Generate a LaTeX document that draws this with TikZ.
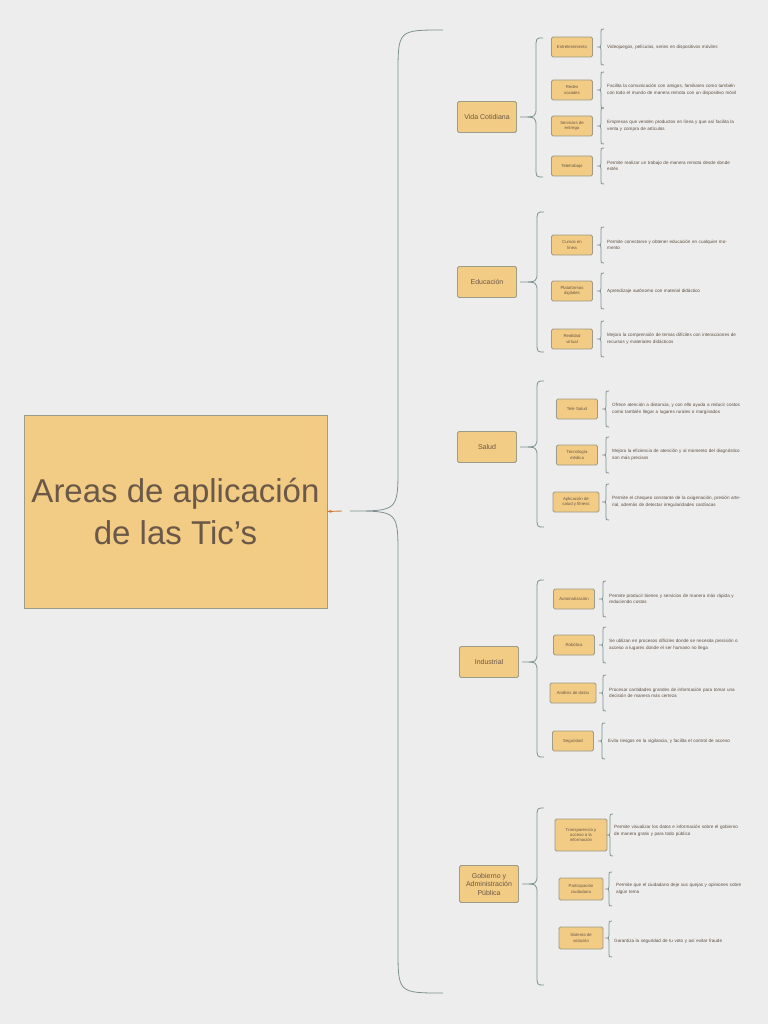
\documentclass[tikz,border=0pt]{standalone}
\usepackage{fontspec}
\setmainfont{Liberation Sans}
\usetikzlibrary{arrows.meta}
\definecolor{bg}{HTML}{EDEDED}
\definecolor{boxfill}{HTML}{F2CB84}
\definecolor{boxline}{HTML}{9C9C88}
\definecolor{lnk}{HTML}{7E9290}
\definecolor{txt}{HTML}{6A5848}
\definecolor{arr}{HTML}{D2762E}
\newcommand\mybrace[7]{% x, top, bottom, mid, tipx, endx, r
\draw[brc] (#6,#2) .. controls (#1,#2) .. (#1,{#2+#7}) -- (#1,{#4-#7}) .. controls (#1,#4) .. (#5,#4) .. controls (#1,#4) .. (#1,{#4+#7}) -- (#1,{#3-#7}) .. controls (#1,#3) .. (#6,#3);}
\tikzset{
 brc/.style={draw=lnk, line width=0.8pt},
 catbox/.style={draw=boxline, fill=boxfill, rounded corners=1.5pt, line width=0.8pt, minimum width=59pt, minimum height=31pt, align=center, font=\fontsize{7}{8.5}\selectfont, text=txt, inner sep=1pt},
 leaf/.style={draw=boxline, fill=boxfill, rounded corners=1.5pt, line width=0.8pt, minimum width=41pt, minimum height=20pt, align=center, font=\fontsize{4.3}{5.2}\selectfont, text=txt, inner sep=1pt},
 desc/.style={anchor=west, align=left, text width=130pt, font=\fontsize{4.6}{6.5}\selectfont, text=txt!90!black, inner sep=0pt},
}
\newcommand\leafitem[5]{% name, x, y, label, description
\node[leaf] (#1) at (#2,#3) {#4};
\mybrace{601}{#3-18}{#3+18}{#3}{597}{604}{3}
\node[desc] (#1d) at (607,#3) {#5};}
\begin{document}
\begin{tikzpicture}[x=1pt,y=-1pt]
\fill[bg] (0,0) rectangle (768,1024);
\useasboundingbox (0,0) rectangle (768,1024);
\node[draw=boxline, fill=boxfill, line width=1pt, minimum width=303pt, minimum height=193pt, text=txt, font=\fontsize{33}{42}\selectfont, align=center] (main) at (175.5,511.5) {Areas de aplicación\\de las Tic's};
\coordinate (tip) at (350,511);
\draw[arr, line width=0.9pt, -{Stealth[length=4pt]}] (342,511) -- (main.east);
\mybrace{398}{30}{993}{511}{350}{443}{45}
% categories
\node[catbox] (vida) at (487,117) {Vida Cotidiana};
\node[catbox] (edu) at (487,282) {Educación};
\node[catbox] (sal) at (487,447) {Salud};
\node[catbox] (ind) at (489,662) {Industrial};
\node[catbox, minimum height=37pt] (gob) at (489,884) {Gobierno y\\Administración\\Pública};
\mybrace{536}{38}{177}{117}{520}{543}{10}
\mybrace{537}{212}{352}{282}{520}{544}{10}
\mybrace{537}{381}{527}{447}{520}{544}{10}
\mybrace{537}{580}{757}{662}{522}{544}{10}
\mybrace{537}{808}{985}{884}{522}{544}{10}
% Vida cotidiana
\leafitem{l1}{572}{47}{Entretenimiento}{Videojuegos, películas, series en dispositivos móviles}
\leafitem{l2}{572}{90}{Redes\\sociales}{Facilita la comunicación con amigos, familiares como también con todo el mundo de manera remota con un dispositivo móvil}
\leafitem{l3}{572}{126}{Servicios de\\entrega}{Empresas que venden productos en línea y que así facilita la venta y compra de artículos}
\leafitem{l4}{572}{166}{Teletrabajo}{Permite realizar un trabajo de manera remota desde donde estés}
% Educacion
\leafitem{l5}{572}{245}{Cursos en\\línea}{Permite conectarse y obtener educación en cualquier momento}
\leafitem{l6}{572}{291}{Plataformas\\digitales}{Aprendizaje autónomo con material didáctico}
\leafitem{l7}{572}{339}{Realidad\\virtual}{Mejora la comprensión de temas difíciles con interacciones de recursos y materiales didácticos}
% Salud
\begin{scope}[xshift=5pt]
\leafitem{l8}{572}{409}{Tele Salud}{Ofrece atención a distancia, y con ello ayuda a reducir costos como también llegar a lugares rurales o marginados}
\leafitem{l9}{572}{455}{Tecnología\\médica}{Mejora la eficiencia de atención y al momento del diagnóstico son más precisos}
\end{scope}
\begin{scope}[xshift=5pt]
\node[leaf, minimum width=46pt] (l10) at (571,502) {Aplicación de\\salud y fitness};
\mybrace{601}{484}{520}{502}{597}{604}{3}
\node[desc] (l10d) at (607,502) {Permite el chequeo constante de la oxigenación, presión arterial, además de detectar irregularidades cardíacas};
\end{scope}
% Industrial
\begin{scope}[xshift=2pt]
\leafitem{l11}{572}{599}{Automatización}{Permite producir bienes y servicios de manera más rápida y reduciendo costos}
\leafitem{l12}{572}{645}{Robótica}{Se utilizan en procesos difíciles donde se necesita precisión o acceso a lugares donde el ser humano no llega}
\end{scope}
\begin{scope}[xshift=1pt]
\node[leaf, minimum width=46pt] (l13) at (572,693) {Análisis de datos};
\mybrace{602}{675}{711}{693}{598}{605}{3}
\node[desc] (l13d) at (608,693) {Procesar cantidades grandes de información para tomar una decisión de manera más certeza};
\leafitem{l14}{572}{741}{Seguridad}{Evita riesgos en la vigilancia, y facilita el control de acceso}
\end{scope}
% Gobierno
\node[leaf, minimum width=52pt, minimum height=32pt] (l15) at (581,835) {Transparencia y\\acceso a la\\información};
\mybrace{610}{814}{856}{835}{606}{613}{3}
\node[desc] (l15d) at (614,831) {Permite visualizar los datos e información sobre el gobierno de manera gratis y para todo público};
\node[leaf, minimum width=44pt, minimum height=22pt] (l16) at (581,889) {Participación\\ciudadana};
\mybrace{609}{872}{906}{889}{605}{612}{3}
\node[desc] (l16d) at (616,889) {Permite que el ciudadano deje sus quejas y opiniones sobre algún tema};
\node[leaf, minimum width=44pt, minimum height=22pt] (l17) at (581,938) {Sistema de\\votación};
\mybrace{609}{921}{957}{938}{605}{612}{3}
\node[desc] (l17d) at (614,941) {Garantiza la seguridad de tu voto y así evitar fraude};
\end{tikzpicture}
\end{document}
